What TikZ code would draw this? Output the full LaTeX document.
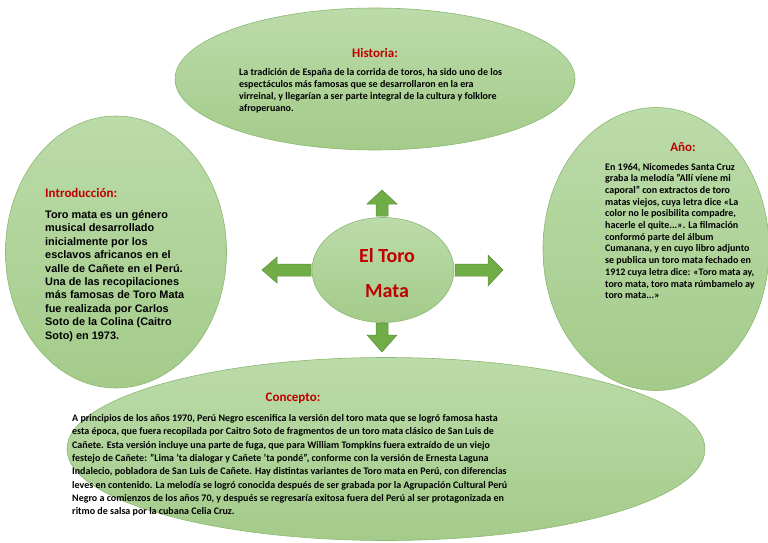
\documentclass[tikz,border=0pt]{standalone}
\usepackage{fontspec}
\setmainfont{Carlito}
\newfontfamily\arialf{Liberation Sans}
\usetikzlibrary{shapes.geometric}
\definecolor{bubtop}{HTML}{BBDBA9}
\definecolor{bubbot}{HTML}{A4CB8A}
\definecolor{bubline}{HTML}{8CB873}
\definecolor{arrfill}{HTML}{70AD47}
\definecolor{arrline}{HTML}{5B8E3A}
\definecolor{ttlred}{HTML}{C00000}
\newcommand\txtblock[1]{\begin{tabular}[t]{@{}l@{}}#1\end{tabular}}
\tikzset{
  bubble/.style={ellipse, draw=bubline, line width=0.6pt, top color=bubtop, bottom color=bubbot, inner sep=0pt},
  ttl/.style={text=ttlred, font=\fontsize{13}{15}\selectfont\bfseries, inner sep=0pt, anchor=base},
  body/.style={text=black, inner sep=0pt, anchor=base west, font=\fontsize{10}{12}\selectfont\bfseries},
  blockarrow/.style={fill=arrfill, draw=arrline, line width=0.5pt, line join=miter}
}
\begin{document}
\begin{tikzpicture}[x=1pt,y=-1pt]
\useasboundingbox (0,0) rectangle (768,543);
% ellipses
\node[bubble, minimum width=638pt, minimum height=183pt] (concepto) at (386,449) {};
\node[bubble, minimum width=221pt, minimum height=272pt] (intro) at (116,252) {};
\node[bubble, minimum width=226pt, minimum height=283pt] (anio) at (656,249) {};
\node[bubble, minimum width=400pt, minimum height=142pt] (historia) at (375,79) {};
\node[bubble, minimum width=142pt, minimum height=105pt] (centro) at (383,270) {};
% block arrows
\draw[blockarrow] (376,216) -- (376,204) -- (367,204) -- (382,190) -- (397,204) -- (388,204) -- (388,216) -- cycle;
\draw[blockarrow] (376,323) -- (376,335) -- (367,335) -- (382,352) -- (397,335) -- (388,335) -- (388,323) -- cycle;
\draw[blockarrow] (311,264) -- (277,264) -- (277,257) -- (262,270) -- (277,283) -- (277,276) -- (311,276) -- cycle;
\draw[blockarrow] (455,264) -- (488,264) -- (488,255) -- (503,270) -- (488,286) -- (488,276) -- (455,276) -- cycle;
% center text
\node[text=ttlred, font=\fontsize{20}{35}\selectfont\bfseries, inner sep=0pt, anchor=base] (ctitle) at (387,262) {\txtblock{\hfil El Toro\hfil\\\hfil Mata\hfil}};
% titles
\node[ttl] (thist) at (375,57) {Historia:};
\node[ttl, anchor=base west] (tintro) at (45,197) {Introducción:};
\node[ttl] (tanio) at (683,151) {Año:};
\node[ttl] (tconc) at (293,401) {Concepto:};
% bodies
\node[body] (bhist) at (239,75.5) {\txtblock{La tradición de España de la corrida de toros, ha sido uno de los\\
espectáculos más famosas que se desarrollaron en la era\\
virreinal, y llegarían a ser parte integral de la cultura y folklore\\
afroperuano.}};
\node[body, font=\fontsize{10.9}{13.4}\selectfont\arialf\bfseries] (bintro) at (45,218.5) {\txtblock{Toro mata es un género\\
musical desarrollado\\
inicialmente por los\\
esclavos africanos en el\\
valle de Cañete en el Perú.\\
Una de las recopilaciones\\
más famosas de Toro Mata\\
fue realizada por Carlos\\
Soto de la Colina (Caitro\\
Soto) en 1973.}};
\node[body, font=\fontsize{10}{11.7}\selectfont\bfseries] (banio) at (605,170) {\txtblock{En 1964, Nicomedes Santa Cruz\\
graba la melodía "Allí viene mi\\
caporal" con extractos de toro\\
matas viejos, cuya letra dice «La\\
color no le posibilita compadre,\\
hacerle el quite...». La filmación\\
conformó parte del álbum\\
Cumanana, y en cuyo libro adjunto\\
se publica un toro mata fechado en\\
1912 cuya letra dice: «Toro mata ay,\\
toro mata, toro mata rúmbamelo ay\\
toro mata...»}};
\node[body, font=\fontsize{10}{13.3}\selectfont\bfseries] (bconc) at (72,421.5) {\txtblock{A principios de los años 1970, Perú Negro escenifica la versión del toro mata que se logró famosa hasta\\
esta época, que fuera recopilada por Caitro Soto de fragmentos de un toro mata clásico de San Luis de\\
Cañete. Esta versión incluye una parte de fuga, que para William Tompkins fuera extraído de un viejo\\
festejo de Cañete: "Lima 'ta dialogar y Cañete 'ta pondé", conforme con la versión de Ernesta Laguna\\
Indalecio, pobladora de San Luis de Cañete. Hay distintas variantes de Toro mata en Perú, con diferencias\\
leves en contenido. La melodía se logró conocida después de ser grabada por la Agrupación Cultural Perú\\
Negro a comienzos de los años 70, y después se regresaría exitosa fuera del Perú al ser protagonizada en\\
ritmo de salsa por la cubana Celia Cruz.}};
\end{tikzpicture}
\end{document}
